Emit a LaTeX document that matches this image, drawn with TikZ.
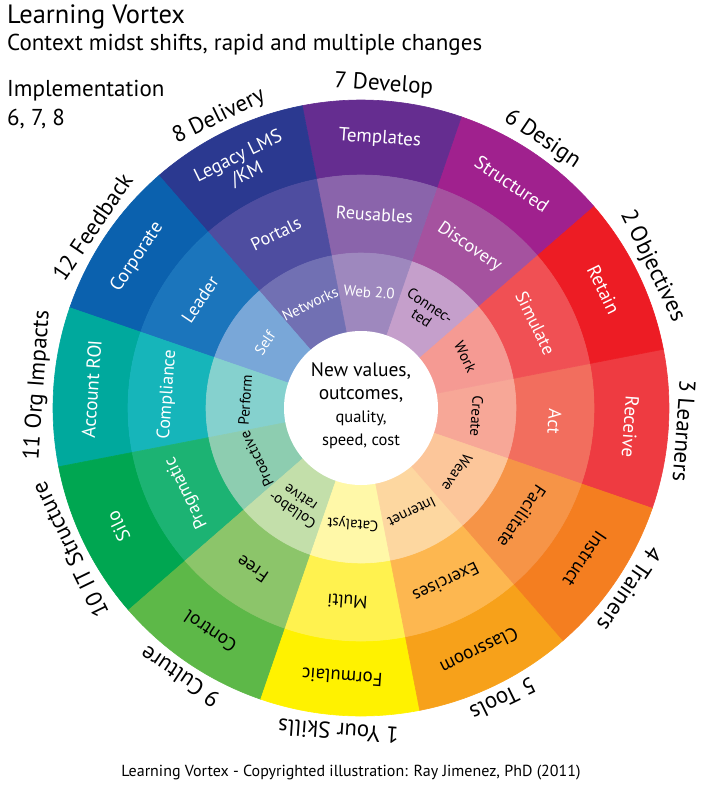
\documentclass[tikz,border=0pt]{standalone}
\usepackage{fontspec}
\setmainfont{PT Sans}
\definecolor{oA}{HTML}{EE3B41}\definecolor{mA}{HTML}{F26E5E}\definecolor{iA}{HTML}{F7A797}
\definecolor{oB}{HTML}{ED1C24}\definecolor{mB}{HTML}{F05054}\definecolor{iB}{HTML}{F59A93}
\definecolor{oC}{HTML}{A0218E}\definecolor{mC}{HTML}{A5529F}\definecolor{iC}{HTML}{C59FCB}
\definecolor{oD}{HTML}{652D90}\definecolor{mD}{HTML}{8A64AB}\definecolor{iD}{HTML}{9E88BE}
\definecolor{oE}{HTML}{2B3990}\definecolor{mE}{HTML}{4E4DA0}\definecolor{iE}{HTML}{7170B3}
\definecolor{oF}{HTML}{0B61AE}\definecolor{mF}{HTML}{1B75BC}\definecolor{iF}{HTML}{79A7D8}
\definecolor{oG}{HTML}{00A99D}\definecolor{mG}{HTML}{16B5BA}\definecolor{iG}{HTML}{85D1CE}
\definecolor{oH}{HTML}{00A651}\definecolor{mH}{HTML}{1CB373}\definecolor{iH}{HTML}{8DCDB0}
\definecolor{oI}{HTML}{5DB848}\definecolor{mI}{HTML}{8CC56A}\definecolor{iI}{HTML}{C3DFAA}
\definecolor{oJ}{HTML}{FFF200}\definecolor{mJ}{HTML}{FFF24F}\definecolor{iJ}{HTML}{FFF8A8}
\definecolor{oK}{HTML}{F7A11A}\definecolor{mK}{HTML}{FDB750}\definecolor{iK}{HTML}{FDD7A0}
\definecolor{oL}{HTML}{F47E20}\definecolor{mL}{HTML}{F69447}\definecolor{iL}{HTML}{FCC69A}
\tikzset{
  outlab/.style={font=\fontsize{23}{25}\selectfont, align=center, inner sep=0pt},
  ringout/.style={font=\fontsize{19}{20}\selectfont, align=center, inner sep=0pt},
  ringmid/.style={font=\fontsize{18}{19}\selectfont, align=center, inner sep=0pt},
  ringin/.style={font=\fontsize{15}{15}\selectfont, align=center, inner sep=0pt},
}
\begin{document}
\begin{tikzpicture}[x=1pt,y=1pt]
\useasboundingbox (0,0) rectangle (703,-804);
\node[anchor=north west, inner sep=0pt, font=\fontsize{26.5}{28}\selectfont] (title) at (7,-5) {Learning Vortex};
\node[anchor=north west, inner sep=0pt, font=\fontsize{23}{25}\selectfont] (sub) at (7,-34) {Context midst shifts, rapid and multiple changes};
\node[anchor=north west, inner sep=0pt, align=left, font=\fontsize{23}{29}\selectfont] (impl) at (7,-80) {Implementation\\6, 7, 8};
\node[inner sep=0pt, font=\fontsize{16}{19}\selectfont] (cap) at (351,-773) {Learning Vortex - Copyrighted illustration: Ray Jimenez, PhD (2011)};
\begin{scope}[shift={(361,-408)}]
\foreach \k/\cc in {0/A,1/B,2/C,3/D,4/E,5/F,6/G,7/H,8/I,9/J,10/K,11/L}{
  \pgfmathsetmacro\ang{-4+30*\k}
  \pgfmathsetmacro\aa{\ang-15}
  \pgfmathsetmacro\ab{\ang+15}
  \fill[o\cc, draw=o\cc, line width=0.6pt] (\aa:233) arc[start angle=\aa,end angle=\ab,radius=233] -- (\ab:308) arc[start angle=\ab,end angle=\aa,radius=308] -- cycle;
  \fill[m\cc, draw=m\cc, line width=0.6pt] (\aa:155) arc[start angle=\aa,end angle=\ab,radius=155] -- (\ab:233) arc[start angle=\ab,end angle=\aa,radius=233] -- cycle;
  \fill[i\cc, draw=i\cc, line width=0.6pt] (\aa:76) arc[start angle=\aa,end angle=\ab,radius=76] -- (\ab:155) arc[start angle=\ab,end angle=\aa,radius=155] -- cycle;
}
\foreach \k/\lab/\ot/\otc/\mt/\mtc/\itx/\itc in {
 0/{3 Learners}/Receive/white/Act/white/Create/black,
 1/{2 Objectives}/Retain/white/Simulate/white/Work/black,
 2/{6 Design}/Structured/white/Discovery/white/{Connec-\\ted}/black,
 3/{7 Develop}/Templates/white/Reusables/white/{Web 2.0}/white,
 4/{8 Delivery}/{Legacy LMS\\/KM}/white/Portals/white/Networks/white,
 5/{12 Feedback}/Corporate/white/Leader/white/Self/white,
 6/{11 Org Impacts}/{Account ROI}/white/Compliance/white/Perform/black,
 7/{10 IT Structure}/Silo/white/Pragmatic/white/Proactive/black,
 8/{9 Culture}/Control/black/Free/black/{Collabo-\\rative}/black,
 9/{1 Your Skills}/Formulaic/black/Multi/black/Catalyst/black,
 10/{5 Tools}/Classroom/black/Exercises/black/Internet/black,
 11/{4 Trainers}/Instruct/black/Facilitate/black/Weave/black}{
  \pgfmathsetmacro\ang{-4+30*\k}
  \pgfmathsetmacro\rot{\ang-90}
  \node[outlab, rotate=\rot] (lab\k) at (\ang:324) {\lab};
  \node[ringout, rotate=\rot, text=\otc] (ro\k) at (\ang:270) {\ot};
  \node[ringmid, rotate=\rot, text=\mtc] (rm\k) at (\ang:194) {\mt};
  \node[ringin, rotate=\rot, text=\itc] (ri\k) at (\ang:116) {\itx};
}
\fill[white] (0,0) circle[radius=77];
\node[align=center, inner sep=0pt, font=\fontsize{19.5}{23}\selectfont] (ctr) at (0,2)
 {New values,\\outcomes,\\{\fontsize{16.5}{20}\selectfont quality,}\\{\fontsize{16.5}{20}\selectfont speed, cost}};
\end{scope}
\end{tikzpicture}
\end{document}
